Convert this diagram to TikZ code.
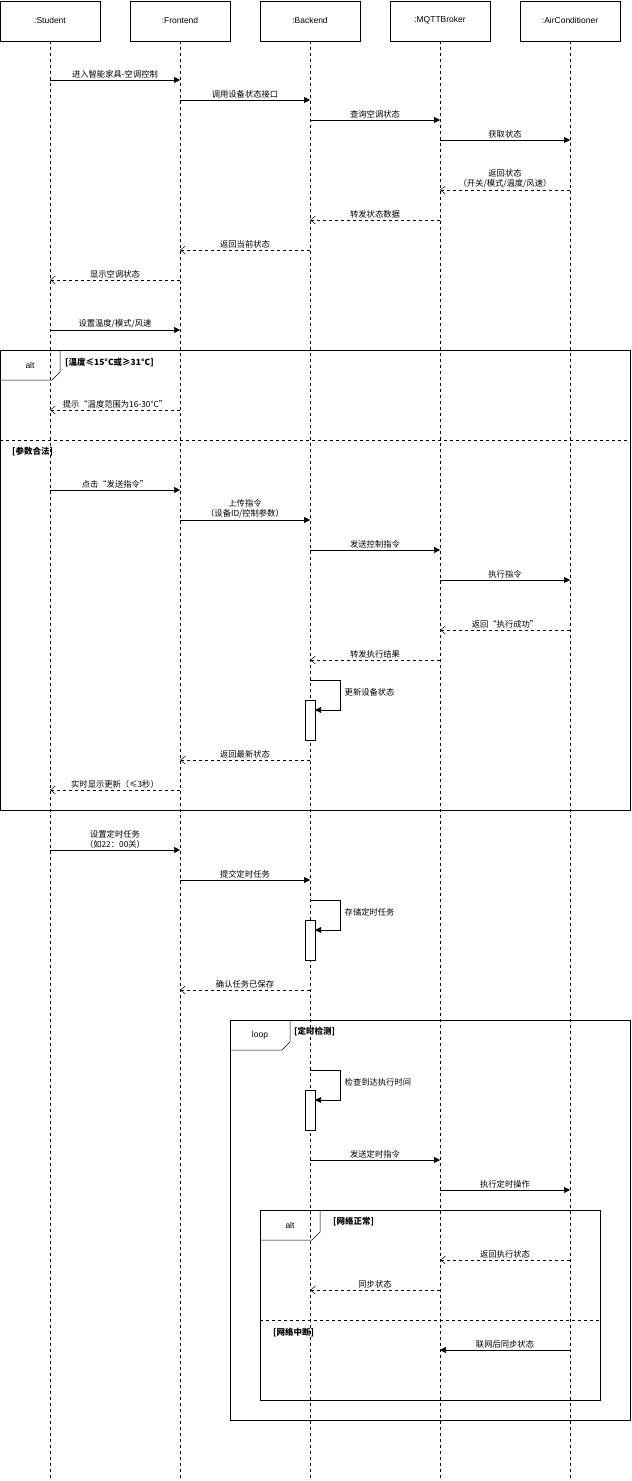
\documentclass[tikz,border=0pt]{standalone}
\usepackage{fontspec}
\setmainfont{Liberation Sans}
\newfontfamily\cjk{Noto Sans CJK SC}
\usetikzlibrary{arrows.meta}
\tikzset{
 head/.style={draw,minimum width=100pt,minimum height=40pt,anchor=north,font=\fontsize{8.5}{10}\selectfont},
 life/.style={draw,dash pattern=on 3pt off 3pt},
 sync/.style={-{Triangle[length=6pt,width=6pt]},line width=0.7pt},
 ret/.style={-{Straight Barb[length=5pt,width=8pt]},dash pattern=on 3pt off 3pt,line width=0.5pt},
 lbl/.style={font=\cjk\fontsize{8.3}{10}\selectfont,align=center,anchor=south,inner sep=1.5pt},
 guard/.style={font=\cjk\bfseries\fontsize{8.5}{10}\selectfont,anchor=west,inner sep=0pt},
 act/.style={draw,fill=white,minimum width=10pt,minimum height=40pt,inner sep=0pt,anchor=north},
 frm/.style={draw,line width=0.5pt},
}
\begin{document}
\begin{tikzpicture}[x=1pt,y=-1pt]
\useasboundingbox (0,0) rectangle (632,1481);
\foreach \n/\x/\t in {S/50/:Student,F/180/:Frontend,B/310/:Backend,M/440/:MQTTBroker,A/570/:AirConditioner}{
  \node[head] (\n) at (\x,0.5) {\t};
  \coordinate (\n e) at (\x,1481);
  \draw[life] (\n.south) -- (\n e);
}
% frames
\draw[frm] (0,350) rectangle (630,810);
\draw[frm] (0,380) -- (52,380) -- (60,372) -- (60,350);
\node[font=\fontsize{8.5}{10}\selectfont] (alt1) at (30,365) {alt};
\node[guard] (g1) at (65,363) {[温度≤15°C或≥31°C]};
\draw[dash pattern=on 3pt off 3pt] (0,440) -- (630,440);
\node[guard] (g2) at (12,452) {[参数合法]};

\draw[frm] (230,1020) rectangle (630,1420);
\draw[frm] (230,1050) -- (282,1050) -- (290,1042) -- (290,1020);
\node[font=\fontsize{8.5}{10}\selectfont] (lp) at (260,1035) {loop};
\node[guard] (g3) at (294,1032) {[定时检测]};

\draw[frm] (260,1210) rectangle (600,1400);
\draw[frm] (260,1240) -- (312,1240) -- (320,1232) -- (320,1210);
\node[font=\fontsize{8.5}{10}\selectfont] (alt2) at (290,1225) {alt};
\node[guard] (g4) at (333,1222) {[网络正常]};
\draw[dash pattern=on 3pt off 3pt] (260,1320) -- (600,1320);
\node[guard] (g5) at (273,1333) {[网络中断]};

\foreach \s/\a/\b/\y/\l in {
 sync/50/180/80/{进入智能家具-空调控制},
 sync/180/310/100/{调用设备状态接口},
 sync/310/440/120/{查询空调状态},
 sync/440/570/140/{获取状态},
 ret/570/440/190/{返回状态\\（开关/模式/温度/风速）},
 ret/440/310/220/{转发状态数据},
 ret/310/180/250/{返回当前状态},
 ret/180/50/280/{显示空调状态},
 sync/50/180/330/{设置温度/模式/风速},
 ret/180/50/410/{提示“温度范围为16-30°C”},
 sync/50/180/490/{点击“发送指令”},
 sync/180/310/520/{上传指令\\（设备ID/控制参数）},
 sync/310/440/550/{发送控制指令},
 sync/440/570/580/{执行指令},
 ret/570/440/630/{返回“执行成功”},
 ret/440/310/660/{转发执行结果},
 ret/310/180/760/{返回最新状态},
 ret/180/50/790/{实时显示更新（≤3秒）},
 sync/50/180/850/{设置定时任务\\（如22：00关）},
 sync/180/310/880/{提交定时任务},
 ret/310/180/990/{确认任务已保存},
 sync/310/440/1160/{发送定时指令},
 sync/440/570/1190/{执行定时操作},
 ret/570/440/1260/{返回执行状态},
 ret/440/310/1290/{同步状态},
 sync/570/440/1350/{联网后同步状态}}{
 \coordinate (p) at (\a,\y);
 \coordinate (q) at (\b,\y);
 \draw[\s] (p) -- (q) node[lbl,midway] {\l};
}
\foreach \y/\l in {680/更新设备状态,900/存储定时任务,1070/检查到达执行时间}{
 \node[act] (ac) at (310,\y+20) {};
 \coordinate (s1) at (310,\y);
 \coordinate (s2) at (340,\y);
 \coordinate (s3) at (340,\y+30);
 \coordinate (s4) at (ac.east |- s3);
 \draw[sync] (s1) -- (s2) -- (s3) -- (s4);
 \node[lbl,anchor=west] (sl) at (343,\y+12) {\l};
}
\end{tikzpicture}
\end{document}
